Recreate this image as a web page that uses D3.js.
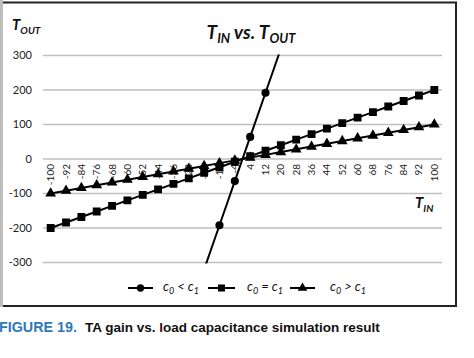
<!DOCTYPE html>
<html><head><meta charset="utf-8">
<script src="https://cdn.jsdelivr.net/npm/d3@7"></script>
<style>
html,body{margin:0;padding:0;background:#fff;}
svg{display:block;}
</style></head>
<body>
<script>
const categories = [-100,-92,-84,-76,-68,-60,-52,-44,-36,-28,-20,-12,-4,4,12,20,28,36,44,52,60,68,76,84,92,100];
const seriesLess  = [null,null,null,null,null,null,null,null,null,null,-320,-192,-64,64,192,320,null,null,null,null,null,null,null,null,null,null];
const seriesEqual = [-200,-184,-168,-152,-136,-120,-104,-88,-72,-56,-40,-24,-8,8,24,40,56,72,88,104,120,136,152,168,184,200];
const seriesMore  = [-100,-92,-84,-76,-68,-60,-52,-44,-36,-28,-20,-12,-4,4,12,20,28,36,44,52,60,68,76,84,92,100];
const yTicks = [300,200,100,0,-100,-200,-300];
const seriesNames = [["c","0"," < c","1"],["c","0"," = c","1"],["c","0"," > c","1"]];
const markers = ["circle","square","triangle"];

const W = 474, H = 358;
const svg = d3.select("body").append("svg").attr("width", W).attr("height", H);
const font = "Lato, 'Open Sans', sans-serif";

// frame
svg.append("rect").attr("x",0).attr("y",0).attr("width",3).attr("height",307).attr("fill","#bdbdbd");
svg.append("path").attr("d","M3,2.5 H456 V306 H3").attr("fill","none").attr("stroke","#222").attr("stroke-width",2);

const x = d3.scaleBand().domain(categories).range([43, 442]);
const y = d3.scaleLinear().domain([-300, 300]).range([262.5, 55.5]);
const cx = d => x(d) + x.bandwidth()/2;

// gridlines
svg.append("g").selectAll("line").data(yTicks).join("line")
  .attr("x1",43).attr("x2",442).attr("y1",d=>y(d)).attr("y2",d=>y(d))
  .attr("stroke","#bfbfbf").attr("stroke-width",1.5);

// y labels
svg.append("g").selectAll("text").data(yTicks).join("text")
  .attr("x",32).attr("y",d=>y(d)).attr("dy","0.35em").attr("text-anchor","end")
  .attr("font-family",font).attr("font-size",11).attr("fill","#222").text(d=>d);

// x labels (rotated, at zero line)
svg.append("g").selectAll("text").data(categories).join("text")
  .attr("transform",d=>`translate(${cx(d)},${y(0)+5}) rotate(-90)`)
  .attr("dy","0.35em").attr("text-anchor","end")
  .attr("font-family",font).attr("font-size",10).attr("fill","#222").text(d=>d);

// clip
svg.append("clipPath").attr("id","plot").append("rect")
  .attr("x",43).attr("y",y(300)-1).attr("width",399).attr("height",y(-300)-y(300)+2);

const line = d3.line().defined(d=>d[1]!==null).x(d=>cx(d[0])).y(d=>y(d[1]));
const symbolOf = {circle:d3.symbolCircle, square:d3.symbolSquare, triangle:d3.symbolTriangle};
const sizeOf = {circle:52, square:62, triangle:50};

const g = svg.append("g").attr("clip-path","url(#plot)");
[seriesLess, seriesEqual, seriesMore].forEach((vals,i)=>{
  const pts = categories.map((c,j)=>[c, vals[j]]);
  g.append("path").datum(pts).attr("d",line).attr("fill","none").attr("stroke","#000").attr("stroke-width",2);
  g.append("g").selectAll("path").data(pts.filter(p=>p[1]!==null)).join("path")
    .attr("transform",p=>`translate(${cx(p[0])},${y(p[1])})`)
    .attr("d",d3.symbol(symbolOf[markers[i]], sizeOf[markers[i]])).attr("fill","#000");
});

// title
const t = svg.append("text").attr("x",251).attr("y",39).attr("text-anchor","middle")
  .attr("font-family",font).attr("font-weight","bold").attr("font-style","italic").attr("font-size",19).attr("fill","#111");
t.append("tspan").text("T");
t.append("tspan").attr("dy",4).attr("font-size",13).text("IN");
t.append("tspan").attr("dy",-4).text(" vs. T");
t.append("tspan").attr("dy",4).attr("font-size",13).text("OUT");

// axis titles
const ty = svg.append("text").attr("x",12).attr("y",30)
  .attr("font-family",font).attr("font-weight","bold").attr("font-style","italic").attr("font-size",15).attr("fill","#111");
ty.append("tspan").text("T");
ty.append("tspan").attr("dy",4).attr("font-size",10).text("OUT");

const tx = svg.append("text").attr("x",415).attr("y",208)
  .attr("font-family",font).attr("font-weight","bold").attr("font-style","italic").attr("font-size",15).attr("fill","#111");
tx.append("tspan").text("T");
tx.append("tspan").attr("dy",4).attr("font-size",10).text("IN");

// legend
const legendX = [[128,153,163],[208,235,247],[290,315,330]];
const ly = 288;
legendX.forEach((lx,i)=>{
  svg.append("line").attr("x1",lx[0]).attr("x2",lx[1]).attr("y1",ly).attr("y2",ly).attr("stroke","#000").attr("stroke-width",2);
  svg.append("path").attr("transform",`translate(${(lx[0]+lx[1])/2},${ly})`)
    .attr("d",d3.symbol(symbolOf[markers[i]], sizeOf[markers[i]]*0.8)).attr("fill","#000");
  const tt = svg.append("text").attr("x",lx[2]).attr("y",ly+3)
    .attr("font-family",font).attr("font-style","italic").attr("font-size",13).attr("fill","#111");
  const n = seriesNames[i];
  tt.append("tspan").text(n[0]);
  tt.append("tspan").attr("dy",3).attr("font-size",9).text(n[1]);
  tt.append("tspan").attr("dy",-3).text(n[2]);
  tt.append("tspan").attr("dy",3).attr("font-size",9).text(n[3]);
});

// caption
const cap1 = svg.append("text").attr("x",-1).attr("y",332)
  .attr("font-family","'Liberation Sans', Arial, sans-serif").attr("font-weight","bold").attr("font-size",14)
  .attr("fill","#2e78b8").text("FIGURE 19.");
const cap2 = svg.append("text").attr("x",85).attr("y",332)
  .attr("font-family","'Liberation Sans', Arial, sans-serif").attr("font-weight","bold").attr("font-size",14)
  .attr("fill","#111").text("TA gain vs. load capacitance simulation result");
const w2 = cap2.node().getComputedTextLength();
cap2.attr("font-size", 14 * 295 / w2);
const w1 = cap1.node().getComputedTextLength();
cap1.attr("font-size", 14 * 78 / w1);
</script>
</body></html>
